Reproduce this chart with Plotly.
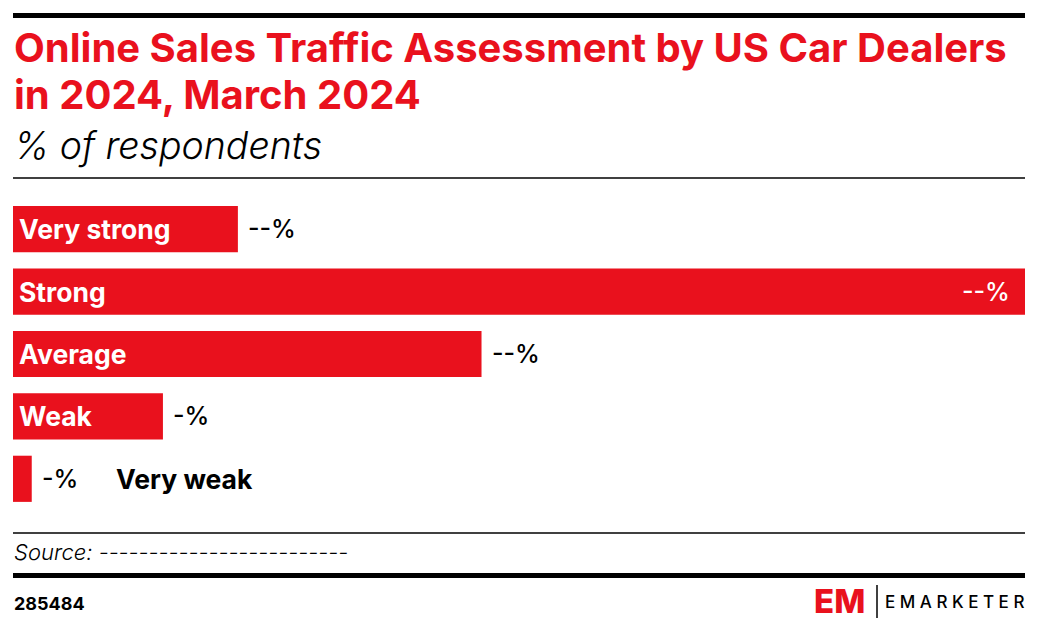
import plotly.graph_objects as go

categories = ["Very strong", "Strong", "Average", "Weak", "Very weak"]
values = [12, 54, 25, 8, 1]
value_labels = ["--%", "--%", "--%", "-%", "-%"]

RED = "#E9111D"
W, H = 1038, 632
ML, MR, MT, MB = 13, 13, 198, 122
PW = W - ML - MR
PH = H - MT - MB

def px(x):
    return (x - ML) / PW

def py(y):
    return (H - MB - y) / PH

FONT = "Inter"

fig = go.Figure()
fig.add_trace(go.Bar(
    y=categories, x=values, orientation="h",
    marker=dict(color=RED, line=dict(width=0)),
    hoverinfo="skip", showlegend=False,
))

ann = []
shapes = []
for i, (c, v, lab) in enumerate(zip(categories, values, value_labels)):
    if v >= 5:
        ann.append(dict(x=0, y=c, xref="x", yref="y", text=c, showarrow=False,
                        xanchor="left", yanchor="middle", xshift=4,
                        font=dict(family=FONT, size=26.5, color="white", weight=700)))
        if v == max(values):
            ann.append(dict(x=v, y=c, xref="x", yref="y", text=lab, showarrow=False,
                            xanchor="right", yanchor="middle", xshift=-13,
                            font=dict(family=FONT, size=25, color="white", weight=500)))
        else:
            ann.append(dict(x=v, y=c, xref="x", yref="y", text=lab, showarrow=False,
                            xanchor="left", yanchor="middle", xshift=8,
                            font=dict(family=FONT, size=25, color="black", weight=500)))
    else:
        ann.append(dict(x=v, y=c, xref="x", yref="y", text=lab, showarrow=False,
                        xanchor="left", yanchor="middle", xshift=8,
                        font=dict(family=FONT, size=25, color="black", weight=500)))
        ann.append(dict(x=v, y=c, xref="x", yref="y", text=c, showarrow=False,
                        xanchor="left", yanchor="middle", xshift=82,
                        font=dict(family=FONT, size=26.5, color="black", weight=700)))

# Title
ann.append(dict(x=px(12), y=py(48), xref="paper", yref="paper",
                text="Online Sales Traffic Assessment by US Car Dealers", showarrow=False,
                xanchor="left", yanchor="middle",
                font=dict(family=FONT, size=40, color=RED, weight=700)))
ann.append(dict(x=px(12), y=py(94), xref="paper", yref="paper",
                text="in 2024, March 2024", showarrow=False,
                xanchor="left", yanchor="middle",
                font=dict(family=FONT, size=40, color=RED, weight=700)))
ann.append(dict(x=px(12), y=py(146), xref="paper", yref="paper",
                text="<i>% of respondents</i>", showarrow=False,
                xanchor="left", yanchor="middle",
                font=dict(family=FONT, size=37.5, color="black", weight=300)))
ann.append(dict(x=px(12), y=py(552), xref="paper", yref="paper",
                text="<i>Source: -------------------------</i>", showarrow=False,
                xanchor="left", yanchor="middle",
                font=dict(family=FONT, size=22, color="black", weight=300)))
ann.append(dict(x=px(12), y=py(603), xref="paper", yref="paper",
                text="285484", showarrow=False,
                xanchor="left", yanchor="middle",
                font=dict(family=FONT, size=18, color="black", weight=700)))
# logo
ann.append(dict(x=px(867), y=py(601), xref="paper", yref="paper",
                text="EM", showarrow=False,
                xanchor="right", yanchor="middle",
                font=dict(family=FONT, size=33, color=RED, weight=800)))
ann.append(dict(x=px(1026), y=py(602), xref="paper", yref="paper",
                text="E M A R K E T E R", showarrow=False,
                xanchor="right", yanchor="middle",
                font=dict(family=FONT, size=17, color="black", weight=500)))

def hline(y, w):
    shapes.append(dict(type="line", xref="paper", yref="paper",
                       x0=px(13), x1=px(1025), y0=py(y), y1=py(y),
                       line=dict(color="black", width=w)))

hline(15.5, 5)
hline(178, 1.5)
hline(533, 1.5)
hline(575.5, 5)
shapes.append(dict(type="line", xref="paper", yref="paper",
                   x0=px(877), x1=px(877), y0=py(585), y1=py(618),
                   line=dict(color="black", width=1.5)))

fig.update_layout(
    width=W, height=H,
    margin=dict(l=ML, r=MR, t=MT, b=MB, pad=0),
    paper_bgcolor="white", plot_bgcolor="white",
    bargap=0.26,
    xaxis=dict(range=[0, max(values)], visible=False, fixedrange=True),
    yaxis=dict(autorange="reversed", visible=False, fixedrange=True),
    annotations=ann, shapes=shapes,
)
fig.write_html("out.html", config={"displayModeBar": False})
